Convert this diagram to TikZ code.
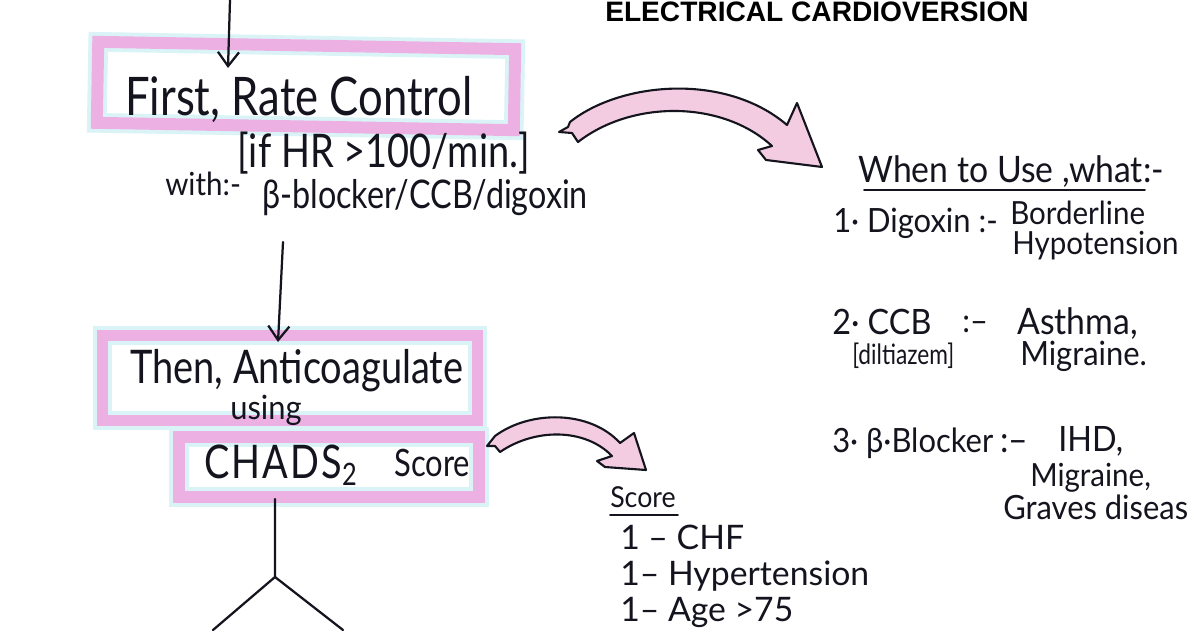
\documentclass[tikz,border=0pt]{standalone}
\usepackage{fontspec}
\setmainfont{Lato}
\newfontfamily\titlefont{Liberation Sans}
\usetikzlibrary{arrows.meta,calc}
\definecolor{pinkband}{RGB}{236,176,226}
\definecolor{halo}{RGB}{218,243,247}
\definecolor{arrowfill}{RGB}{243,204,225}
\definecolor{ink}{RGB}{20,20,30}
\tikzset{
  hw/.style={inner sep=0pt, anchor=base west, text=ink},
  pinkbox/.style={draw=pinkband, line width=8.5pt, inner sep=0pt,
    preaction={draw=halo, line width=14pt}},
  penline/.style={draw=ink, line width=1.6pt, line cap=round, line join=round},
  penarrow/.style={penline, -{Straight Barb[length=10pt,width=15pt,line width=1.6pt]}},
  bigarrow/.style={fill=arrowfill, draw=ink, line width=1.5pt, line join=round},
}
\newcommand\fs[1]{\fontsize{#1}{#1}\selectfont}
\newcommand\tall[1]{\scalebox{1}[1.22]{#1}}
\newcommand\semi[1]{\scalebox{1}[1.08]{#1}}
\begin{document}
\begin{tikzpicture}[x=0.025cm,y=-0.025cm]
\useasboundingbox[fill=white] (0,0) rectangle (1200,630);

% title
\node[font=\titlefont\bfseries\fs{20}, text=black, inner sep=0pt] (title) at (817,12) {ELECTRICAL CARDIOVERSION};

% pink boxes
\node[pinkbox, rotate=-1, minimum width=417*0.025cm, minimum height=81*0.025cm] (box1) at (306,86) {};
\node[pinkbox, minimum width=300*0.025cm, minimum height=60*0.025cm] (box2b) at (329,467) {};
\node[pinkbox, minimum width=375*0.025cm, minimum height=85*0.025cm] (box2a) at (290,378) {};

% box 1 text
\node[hw, font=\fs{31}] (first) at (125,116) {\tall{First, Rate Control}};
\node[hw, font=\fs{27}] (ifhr) at (237,167) {\tall{[if HR >100/min.]}};
\node[hw, font=\fs{21}] (with) at (165,195) {\semi{with:-}};
\node[hw, font=\fs{23}] (drugs) at (262,208) {\tall{β-blocker/CCB/digoxin}};

% box 2 text
\node[hw, font=\fs{27}] (then) at (130,383) {\tall{Then, Anticoagulate}};
\node[hw, font=\fs{22}] (using) at (230,419) {\semi{using}};
\node[hw, font=\fs{27}] (chads) at (204,478) {\tall{C\kern1.5pt H\kern1.5pt A\kern1.5pt D\kern1.5pt S\raisebox{-0.3ex}{\fs{18}2}}};
\node[hw, font=\fs{22}] (score) at (394,476) {\tall{Score}};

% pen connectors
\coordinate (a0s) at (230,0);
\coordinate (a0e) at (228,68);
\draw[penarrow] (a0s) -- (a0e);
\coordinate (a1s) at (283,242);
\coordinate (a1e) at (278,342);
\draw[penarrow] (a1s) -- (a1e);
\coordinate (stemtop) at (275,499);
\coordinate (fork) at (275,577);
\coordinate (bl) at (213,630);
\coordinate (br) at (343,630);
\draw[penline] (stemtop) -- (fork) -- (bl);
\draw[penline] (fork) -- (br);

% big pink arrow 1
\draw[bigarrow] (570,122) .. controls (620,82) and (725,72) .. (787,125)
  -- (797,103) -- (822,167) -- (766,160) -- (758,150) -- (772,146)
  .. controls (722,100) and (632,100) .. (578,142)
  -- (572,133) -- (559,132) -- (568,127) -- cycle;

% big pink arrow 2
\draw[bigarrow] (495,436) .. controls (530,410) and (590,410) .. (620,443)
  -- (634,433) -- (646,470) -- (605,467) -- (597,461) -- (612,456)
  .. controls (585,428) and (535,428) .. (500,452)
  -- (495,446) -- (487,446) -- cycle;

% right column
\node[hw, font=\fs{24}] (when) at (858,182) {\semi{When to Use ,what:-}};
\draw[penline, line width=1.2pt] ($(when.base west)+(6,8)$) -- ($(when.base west)+(287,8)$);
\node[hw, font=\fs{22}] (d1a) at (833,232) {\semi{1· Digoxin :-}};
\node[hw, font=\fs{21}] (d1b) at (1010,224) {\semi{Borderline}};
\node[hw, font=\fs{21}] (d1c) at (1012,254) {\semi{Hypotension}};

\node[hw, font=\fs{23}] (c2a) at (832,334) {\semi{2· CCB}};
\node[hw, font=\fs{22}] (c2s) at (962,332) {\semi{:–}};
\node[hw, font=\fs{24}] (c2b) at (1017,334) {\semi{Asthma,}};
\node[hw, font=\fs{19}] (c2c) at (852,364) {\scalebox{0.85}[1.05]{[diltiazem]}};
\node[hw, font=\fs{22}] (c2d) at (1020,365) {\semi{Migraine.}};

\node[hw, font=\fs{22}] (b3a) at (832,452) {\semi{3· β·Blocker}};
\node[hw, font=\fs{24}] (b3s) at (1000,452) {\semi{:–}};
\node[hw, font=\fs{23}] (b3b) at (1058,451) {\semi{IHD,}};
\node[hw, font=\fs{21}] (b3c) at (1030,486) {\semi{Migraine,}};
\node[hw, font=\fs{22}] (b3d) at (1003,519) {\semi{Graves diseas}};

% score list
\node[hw, font=\fs{19}] (sc) at (610,507) {\semi{Score}};
\draw[penline, line width=1.2pt] ($(sc.base west)+(0,8)$) -- ($(sc.base east)+(2,8)$);
\node[hw, font=\fs{24}] (s1) at (620,549) {1 – CHF};
\node[hw, font=\fs{24}] (s2) at (620,585) {1– Hypertension};
\node[hw, font=\fs{24}] (s3) at (620,621) {1– Age >75};
\end{tikzpicture}
\end{document}
